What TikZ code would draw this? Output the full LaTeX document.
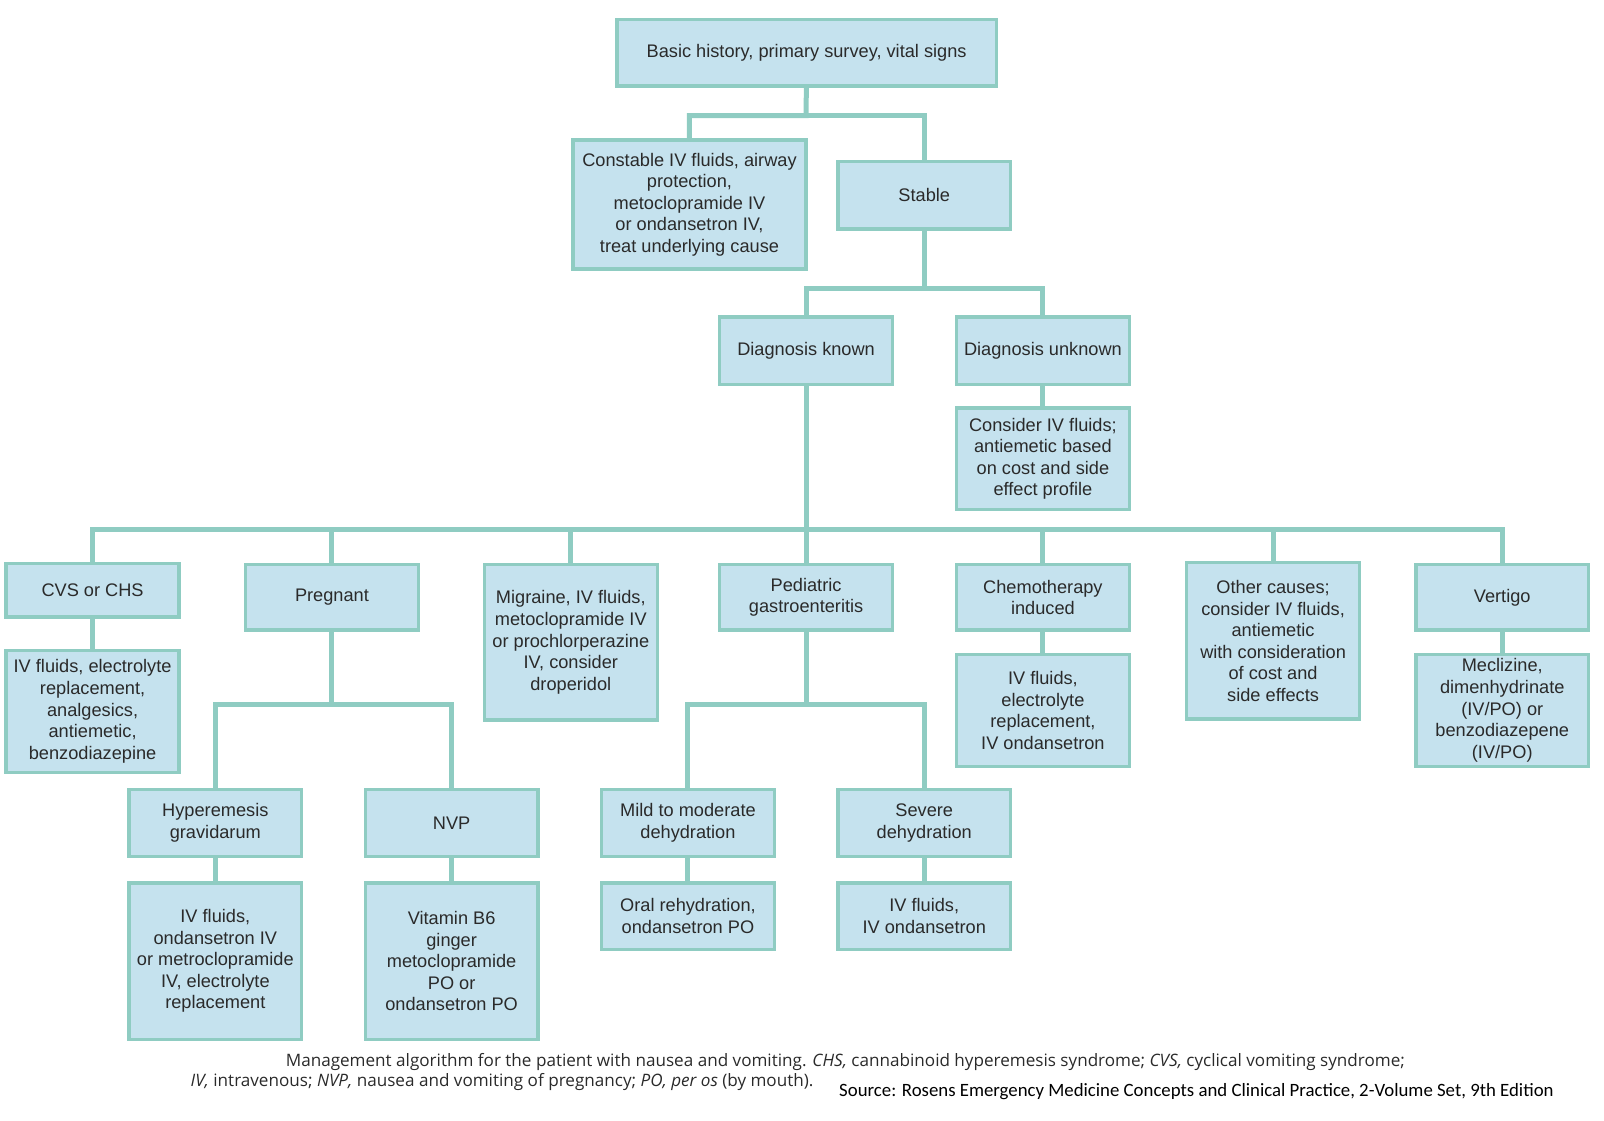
\documentclass[tikz,border=0pt]{standalone}
\usepackage{fontspec}
\setmainfont{Liberation Sans}
\newfontfamily\captionfont{Open Sans}
\newfontfamily\sourcefont{Carlito}
\newcommand{\px}{0.5115pt}
\definecolor{boxfill}{HTML}{C5E2EE}
\definecolor{boxline}{HTML}{8FCCC2}
\definecolor{boxtext}{HTML}{2A2A2A}
\tikzset{box/.style = {draw = boxline, fill = boxfill, line width = 1.7pt, align = center,
                       inner sep = 0, text = boxtext, minimum width = 169*\px,
                       font = \fontsize{9.1}{10.8}\selectfont}}
\tikzset{link/.style = {draw = boxline, line width = 2.5pt}}

\begin{document}
\begin{tikzpicture}[x = \px, y = -\px]
    \useasboundingbox (0, 0) rectangle (1568, 1095);
    \node [box, minimum width = 371*\px, minimum height = 65*\px] (top) at (788.5, 51.5) {Basic history, primary survey, vital signs};
    \node [box, minimum width = 228*\px, minimum height = 126*\px] (constable) at (674, 200) {Constable IV fluids, airway\\protection,\\metoclopramide IV\\or ondansetron IV,\\treat underlying cause};
    \node [box, minimum height = 66*\px] (stable) at (903.5, 191) {Stable};
    \node [box, minimum height = 66*\px] (known) at (788, 343) {Diagnosis known};
    \node [box, minimum height = 66*\px] (unknown) at (1019.5, 343) {Diagnosis unknown};
    \node [box, minimum height = 99*\px] (consider) at (1019.5, 448.5) {Consider IV fluids;\\antiemetic based\\on cost and side\\effect profile};
    \node [box, minimum height = 52*\px] (cvs) at (90.5, 577) {CVS or CHS};
    \node [box, minimum height = 119*\px] (cvsrx) at (90.5, 695.5) {IV fluids, electrolyte\\replacement,\\analgesics,\\antiemetic,\\benzodiazepine};
    \node [box, minimum height = 64*\px] (pregnant) at (324.5, 584) {Pregnant};
    \node [box, minimum height = 152*\px] (migraine) at (558, 628) {Migraine, IV fluids,\\metoclopramide IV\\or prochlorperazine\\IV, consider\\droperidol};
    \node [box, minimum height = 64*\px] (pediatric) at (788, 584) {Pediatric\\gastroenteritis};
    \node [box, minimum height = 64*\px] (chemo) at (1019.5, 584) {Chemotherapy\\induced};
    \node [box, minimum height = 109*\px] (chemorx) at (1019.5, 694.5) {IV fluids,\\electrolyte\\replacement,\\IV ondansetron};
    \node [box, minimum height = 153*\px] (other) at (1244.5, 626.5) {Other causes;\\consider IV fluids,\\antiemetic\\with consideration\\of cost and\\side effects};
    \node [box, minimum height = 64*\px] (vertigo) at (1468.5, 584) {Vertigo};
    \node [box, minimum height = 109*\px] (vertigorx) at (1468.5, 694.5) {Meclizine,\\dimenhydrinate\\(IV/PO) or\\benzodiazepene\\(IV/PO)};
    \node [box, minimum height = 65*\px] (hyper) at (210.5, 804.5) {Hyperemesis\\gravidarum};
    \node [box, minimum height = 65*\px] (nvp) at (441.5, 804.5) {NVP};
    \node [box, minimum height = 153*\px] (hyperrx) at (210.5, 939.5) {IV fluids,\\ondansetron IV\\or metroclopramide\\IV, electrolyte\\replacement};
    \node [box, minimum height = 153*\px] (nvprx) at (441.5, 939.5) {Vitamin B6\\ginger\\metoclopramide\\PO or\\ondansetron PO};
    \node [box, minimum height = 65*\px] (mild) at (672.5, 804.5) {Mild to moderate\\dehydration};
    \node [box, minimum height = 65*\px] (severe) at (903.5, 804.5) {Severe\\dehydration};
    \node [box, minimum height = 65*\px] (mildrx) at (672.5, 895.5) {Oral rehydration,\\ondansetron PO};
    \node [box, minimum height = 65*\px] (severerx) at (903.5, 895.5) {IV fluids,\\IV ondansetron};
    \coordinate (j1) at (788, 113);
    \coordinate (j2) at (903.5, 282);
    \coordinate (j3) at (788, 518);
    \coordinate (j4) at (324.5, 689);
    \coordinate (j5) at (788, 689);
    \draw [link] (top) -- (j1) -| (constable.north);
    \draw [link] (j1) -| (stable.north);
    \draw [link] (stable) -- (j2) -| (known.north);
    \draw [link] (j2) -| (unknown.north);
    \draw [link] (unknown) -- (consider);
    \draw [link] (known) -- (j3);
    \foreach \n in {cvs, pregnant, migraine, pediatric, chemo, other, vertigo}
        \draw [link] (j3) -| (\n.north);
    \draw [link] (cvs) -- (cvsrx);
    \draw [link] (chemo) -- (chemorx);
    \draw [link] (vertigo) -- (vertigorx);
    \draw [link] (pregnant) -- (j4);
    \draw [link] (j4) -| (hyper.north);
    \draw [link] (j4) -| (nvp.north);
    \draw [link] (hyper) -- (hyperrx);
    \draw [link] (nvp) -- (nvprx);
    \draw [link] (pediatric) -- (j5);
    \draw [link] (j5) -| (mild.north);
    \draw [link] (j5) -| (severe.north);
    \draw [link] (mild) -- (mildrx);
    \draw [link] (severe) -- (severerx);
    \node [anchor = west, inner sep = 0, text = boxtext, font = \captionfont\fontsize{8.55}{10}\selectfont] (caption1) at (279, 1038) {Management algorithm for the patient with nausea and vomiting. \textit{CHS,} cannabinoid hyperemesis syndrome; \textit{CVS,} cyclical vomiting syndrome;};
    \node [anchor = west, inner sep = 0, text = boxtext, font = \captionfont\fontsize{8.55}{10}\selectfont] (caption2) at (186, 1058) {\textit{IV,} intravenous; \textit{NVP,} nausea and vomiting of pregnancy; \textit{PO, per os} (by mouth).};
    \node [anchor = west, inner sep = 0, font = \sourcefont\fontsize{9.4}{11}\selectfont] (source) at (820, 1067) {Source: Rosens Emergency Medicine Concepts and Clinical Practice, 2-Volume Set, 9th Edition};
\end{tikzpicture}
\end{document}
